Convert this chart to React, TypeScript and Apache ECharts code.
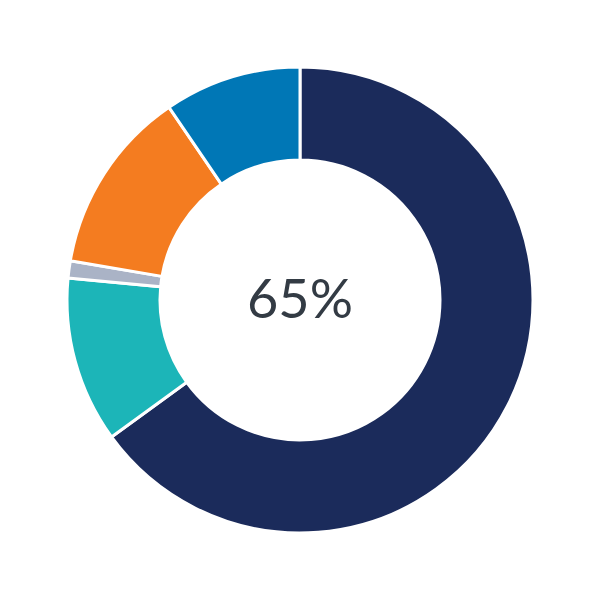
import React, { useEffect, useRef } from "react";
import * as echarts from "echarts";

const categories = ["A", "B", "C", "D", "E"];
const values = [65, 11.5, 1.2, 12.8, 9.5];
const colors = ["#1b2b5b", "#1cb5b8", "#aab3c6", "#f47c20", "#0077b6"];
const centerLabel = "65%";

export default function App() {
  const ref = useRef<HTMLDivElement>(null);
  useEffect(() => {
    document.body.style.margin = "0";
    const chart = echarts.init(ref.current!, null, { renderer: "svg" });
    chart.setOption({
      animation: false,
      backgroundColor: "#ffffff",
      graphic: [
        {
          type: "text",
          x: 300,
          y: 297,
          style: {
            text: centerLabel,
            fontFamily: "Lato",
            fontWeight: 400,
            fontSize: 54,
            fill: "#333b44",
            align: "center",
            verticalAlign: "middle",
          },
        },
      ],
      series: [
        {
          type: "pie",
          center: [300, 300],
          radius: [140, 233],
          startAngle: 90,
          clockwise: true,
          label: { show: false },
          labelLine: { show: false },
          itemStyle: { borderColor: "#ffffff", borderWidth: 3 },
          data: categories.map((c, i) => ({
            name: c,
            value: values[i],
            itemStyle: { color: colors[i] },
          })),
        },
      ],
    });
    return () => chart.dispose();
  }, []);
  return <div ref={ref} style={{ width: 600, height: 600 }} />;
}
